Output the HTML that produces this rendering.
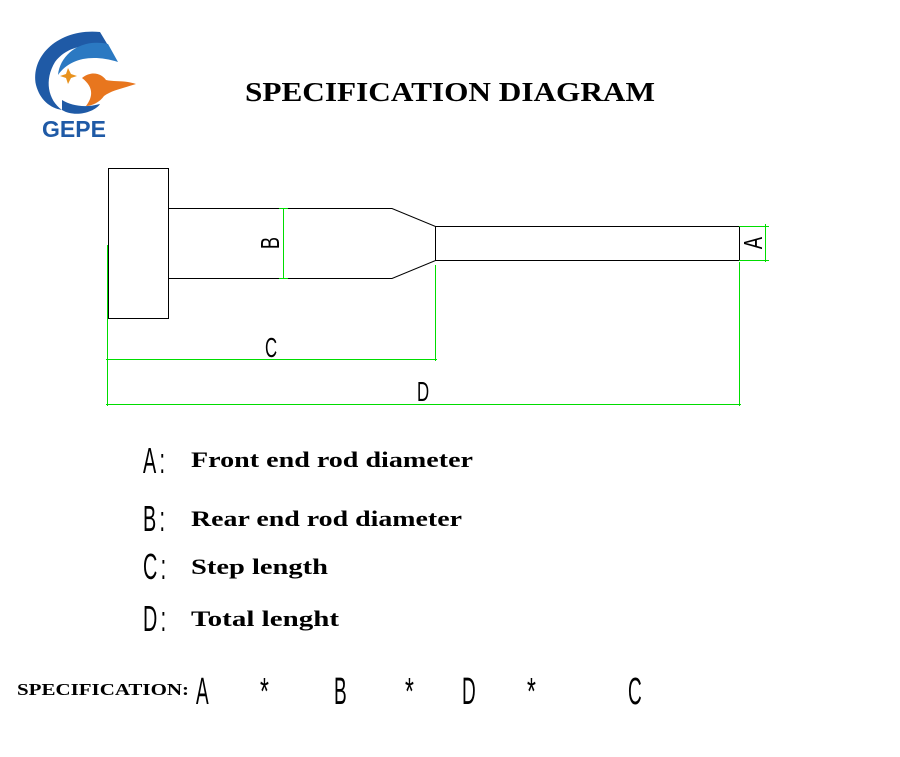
<!DOCTYPE html>
<html><head><meta charset="utf-8"><style>
body{margin:0;background:#fff;width:900px;height:757px;overflow:hidden}
svg{display:block}
.t{font-family:"Liberation Serif",serif;font-weight:bold;fill:#000}
.c{font-family:"Liberation Sans",sans-serif;fill:#000;font-weight:normal}
</style></head><body>
<svg width="900" height="757" viewBox="0 0 900 757">
<!-- logo -->
<path d="M100 32 C60 28 30 55 36 85 C40 100 50 108 62 110 C48 100 44 80 55 62 C68 45 90 42 112 52 Z" fill="#1f5aa6"/>
<path d="M108 44 C80 38 60 55 58 75 C70 58 92 54 118 62 Z" fill="#2b79c2"/>
<path d="M62 110 C75 118 95 112 100 104 C85 108 72 106 62 100 Z" fill="#1f5aa6"/>
<path d="M82 78 C92 70 102 74 106 80 C115 82 125 80 136 84 C124 88 112 90 104 96 C100 102 92 106 86 106 C92 98 95 88 82 78 Z" fill="#e8761e"/>
<path d="M68 68 L71 74 L77 76 L71 78 L68 84 L66 78 L60 76 L66 74 Z" fill="#e8921e"/>
<text x="42" y="137" font-family="Liberation Sans,sans-serif" font-weight="bold" font-size="23" fill="#1f5aa6">GEPE</text>
<text x="245" y="101" class="t" font-size="27" textLength="410" lengthAdjust="spacingAndGlyphs">SPECIFICATION DIAGRAM</text>
<!-- part -->
<g fill="none" stroke="#000" stroke-width="1">
<rect x="108.5" y="168.5" width="60" height="150"/>
<path d="M168.5 208.5 H392 L435.5 226.5 H739.5 V260.5 H435.5 L392 278.5 H168.5"/>
<path d="M435.5 226.5 V260.5"/>
</g>
<g stroke="#00dd00" stroke-width="1" fill="none">
<path d="M283.5 208 V278 M279 208.5 H288 M279 278.5 H288"/>
<path d="M107.5 245 V406 M435.5 265 V361 M739.5 262 V406"/>
<path d="M106 359.5 H437 M106 404.5 H741"/>
<path d="M739 226.5 H769 M739 260.5 H769 M765.5 224 V262"/>
</g>
<text class="c" font-size="26" transform="translate(279,243) rotate(-90) scale(0.7,1)" text-anchor="middle">B</text>
<text class="c" font-size="26" transform="translate(762,243) rotate(-90) scale(0.7,1)" text-anchor="middle">A</text>
<text class="c" font-size="28" transform="translate(271,357) scale(0.6,1)" text-anchor="middle">C</text>
<text class="c" font-size="28" transform="translate(423,401) scale(0.6,1)" text-anchor="middle">D</text>
<g class="c" font-size="36">
<text transform="translate(143,473) scale(0.55,1)">A<tspan dx="6">:</tspan></text>
<text transform="translate(143,531) scale(0.55,1)">B<tspan dx="6">:</tspan></text>
<text transform="translate(143,579) scale(0.55,1)">C<tspan dx="6">:</tspan></text>
<text transform="translate(143,631) scale(0.55,1)">D<tspan dx="6">:</tspan></text>
</g>
<g class="t" font-size="22">
<text x="191" y="467" textLength="282" lengthAdjust="spacingAndGlyphs">Front end rod diameter</text>
<text x="191" y="526" textLength="271" lengthAdjust="spacingAndGlyphs">Rear end rod diameter</text>
<text x="191" y="574" textLength="137" lengthAdjust="spacingAndGlyphs">Step length</text>
<text x="191" y="626" textLength="148" lengthAdjust="spacingAndGlyphs">Total lenght</text>
</g>
<text x="17" y="695" class="t" font-size="17" textLength="172" lengthAdjust="spacingAndGlyphs">SPECIFICATION:</text>
<g class="c" font-size="38">
<text transform="translate(196,704) scale(0.5,1)">A</text>
<text transform="translate(260,704) scale(0.6,1)">*</text>
<text transform="translate(334,704) scale(0.5,1)">B</text>
<text transform="translate(405,704) scale(0.6,1)">*</text>
<text transform="translate(462,704) scale(0.5,1)">D</text>
<text transform="translate(527,704) scale(0.6,1)">*</text>
<text transform="translate(628,704) scale(0.5,1)">C</text>
</g>
</svg>
</body></html>
